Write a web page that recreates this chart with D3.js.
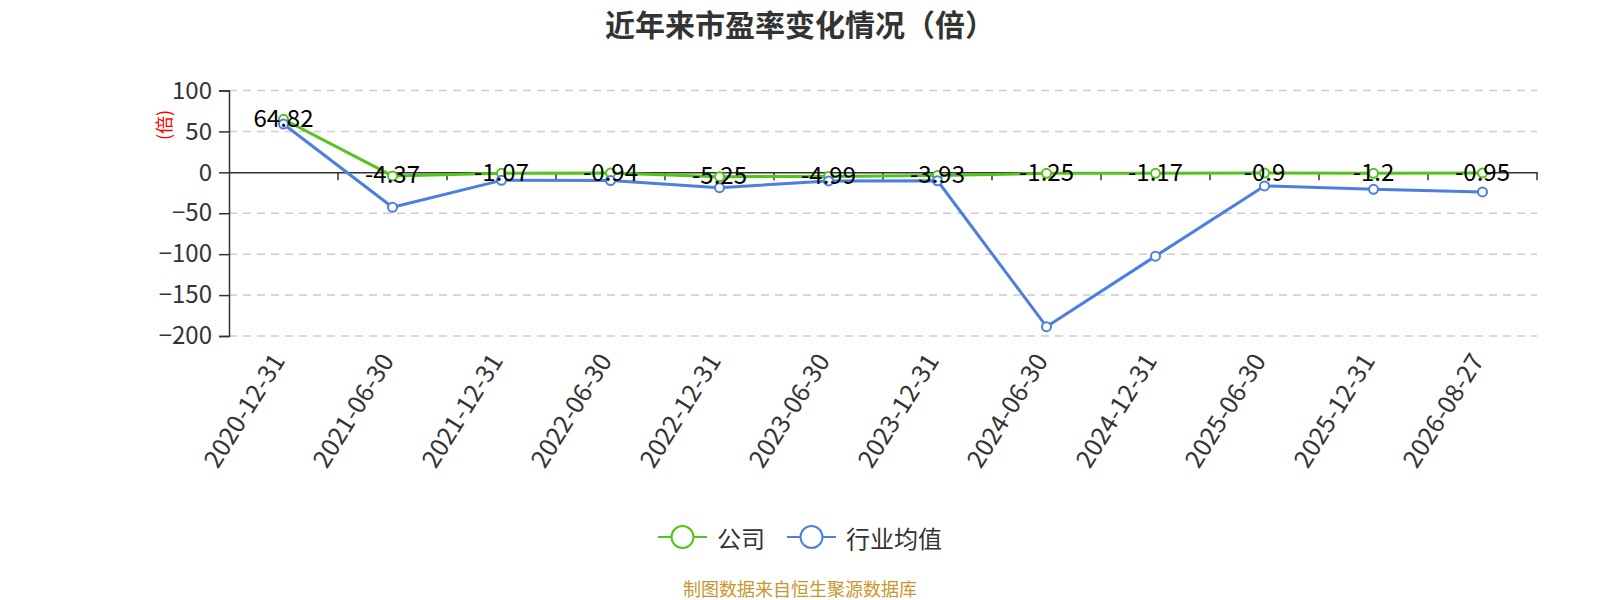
<!DOCTYPE html>
<html><head><meta charset="utf-8">
<script src="https://cdn.jsdelivr.net/npm/d3@7/dist/d3.min.js"></script>
<style>
html,body{margin:0;padding:0;background:#fff;}
svg{display:block;font-family:"Noto Sans CJK SC","Noto Sans",sans-serif;}
</style></head>
<body>
<svg id="chart" width="1600" height="600"></svg>
<script>
const categories = ["2020-12-31","2021-06-30","2021-12-31","2022-06-30","2022-12-31","2023-06-30","2023-12-31","2024-06-30","2024-12-31","2025-06-30","2025-12-31","2026-08-27"];
const companyValues = [64.82,-4.37,-1.07,-0.94,-5.25,-4.99,-3.93,-1.25,-1.17,-0.9,-1.2,-0.95];
const industryValues = [59,-42.7,-9.8,-10.1,-18.7,-10.5,-10.3,-188.6,-102.4,-16.6,-20.7,-23.9];
const yTicks = [100,50,0,-50,-100,-150,-200];
const seriesNames = ["公司","行业均值"];
const titleText = "近年来市盈率变化情况（倍）";
const yAxisName = "(倍)";
const sourceText = "制图数据来自恒生聚源数据库";

(function(){
const colors = {company:"#52c41a", industry:"#4b7fe0"};
const svg = d3.select("#chart");
const pLeft = 229, pRight = 1537, pTop = 90.5, pBottom = 336;

const x = d3.scaleBand().domain(categories).range([pLeft, pRight]);
const y = d3.scaleLinear().domain([-200, 100]).range([pBottom, pTop]);
const cx = d => x(d) + x.bandwidth()/2;

svg.append("text").attr("x", 800).attr("y", 23).attr("text-anchor","middle")
  .attr("dominant-baseline","central").attr("font-size",30).attr("font-weight","bold")
  .attr("fill","#333").text(titleText);

svg.append("g").selectAll("line").data(yTicks.filter(t=>t!==0)).join("line")
  .attr("x1", pLeft).attr("x2", pRight).attr("y1", d=>y(d)).attr("y2", d=>y(d))
  .attr("stroke","#cccccc").attr("stroke-width",1.5).attr("stroke-dasharray","8,6");

const yAxis = d3.axisLeft(y).tickValues(yTicks).tickSize(10).tickPadding(7);
const gy = svg.append("g").attr("transform",`translate(${pLeft},0)`).call(yAxis);
gy.select(".domain").attr("stroke","#333").attr("stroke-width",1.5);
gy.selectAll(".tick line").attr("stroke","#333").attr("stroke-width",1.5);
gy.selectAll(".tick text").attr("font-size",24).attr("fill","#333")
  .attr("font-family","'Noto Sans CJK SC','Noto Sans',sans-serif");

svg.append("text").attr("transform",`translate(163,125) rotate(-90)`)
  .attr("text-anchor","middle").attr("dominant-baseline","central")
  .attr("font-size",18).attr("fill","#ff0000").text(yAxisName);

const xAxis = d3.axisBottom(x).tickSize(0).tickFormat("");
const gx = svg.append("g").attr("transform",`translate(0,${y(0)})`).call(xAxis);
gx.select(".domain").attr("stroke","#333").attr("stroke-width",1.5);
const boundaries = categories.map(c => x(c)).slice(1).concat([pRight]);
gx.append("g").selectAll("line").data(boundaries).join("line")
  .attr("x1", d=>d).attr("x2", d=>d).attr("y1",0).attr("y2",8)
  .attr("stroke","#333").attr("stroke-width",1.5);

svg.append("g").selectAll("text").data(categories).join("text")
  .attr("transform", d=>`translate(${cx(d)-7},${pBottom+19}) rotate(-58)`)
  .attr("text-anchor","end").attr("dominant-baseline","central")
  .attr("font-size",25).attr("fill","#333").text(d=>d);

const line = d3.line().x((d,i)=>cx(categories[i])).y(d=>y(d));
function drawSeries(vals,color){
  svg.append("path").datum(vals).attr("d",line).attr("fill","none")
    .attr("stroke",color).attr("stroke-width",3).attr("stroke-linejoin","round");
  svg.append("g").selectAll("circle").data(vals).join("circle")
    .attr("cx",(d,i)=>cx(categories[i])).attr("cy",d=>y(d)).attr("r",4.5)
    .attr("fill","#fff").attr("stroke",color).attr("stroke-width",2);
}
drawSeries(companyValues, colors.company);
drawSeries(industryValues, colors.industry);

svg.append("g").selectAll("text").data(companyValues).join("text")
  .attr("x",(d,i)=>cx(categories[i])).attr("y",d=>y(d)-3)
  .attr("text-anchor","middle").attr("dominant-baseline","central")
  .attr("font-size",24).attr("fill","#000").text(d=>d);

const legendItems = [
  {name:seriesNames[0], color:colors.company, x:658},
  {name:seriesNames[1], color:colors.industry, x:787}
];
const lg = svg.append("g");
legendItems.forEach(it=>{
  const g = lg.append("g").attr("transform",`translate(${it.x},537)`);
  g.append("line").attr("x1",0).attr("x2",49).attr("y1",0).attr("y2",0)
    .attr("stroke",it.color).attr("stroke-width",2);
  g.append("circle").attr("cx",24.5).attr("cy",0).attr("r",11)
    .attr("fill","#fff").attr("stroke",it.color).attr("stroke-width",2);
  g.append("text").attr("x",59).attr("y",0).attr("dominant-baseline","central")
    .attr("font-size",24).attr("fill","#333").text(it.name);
});

svg.append("text").attr("x",800).attr("y",588).attr("text-anchor","middle")
  .attr("dominant-baseline","central").attr("font-size",18).attr("fill","#c9962e")
  .text(sourceText);
})();
</script>
</body></html>
